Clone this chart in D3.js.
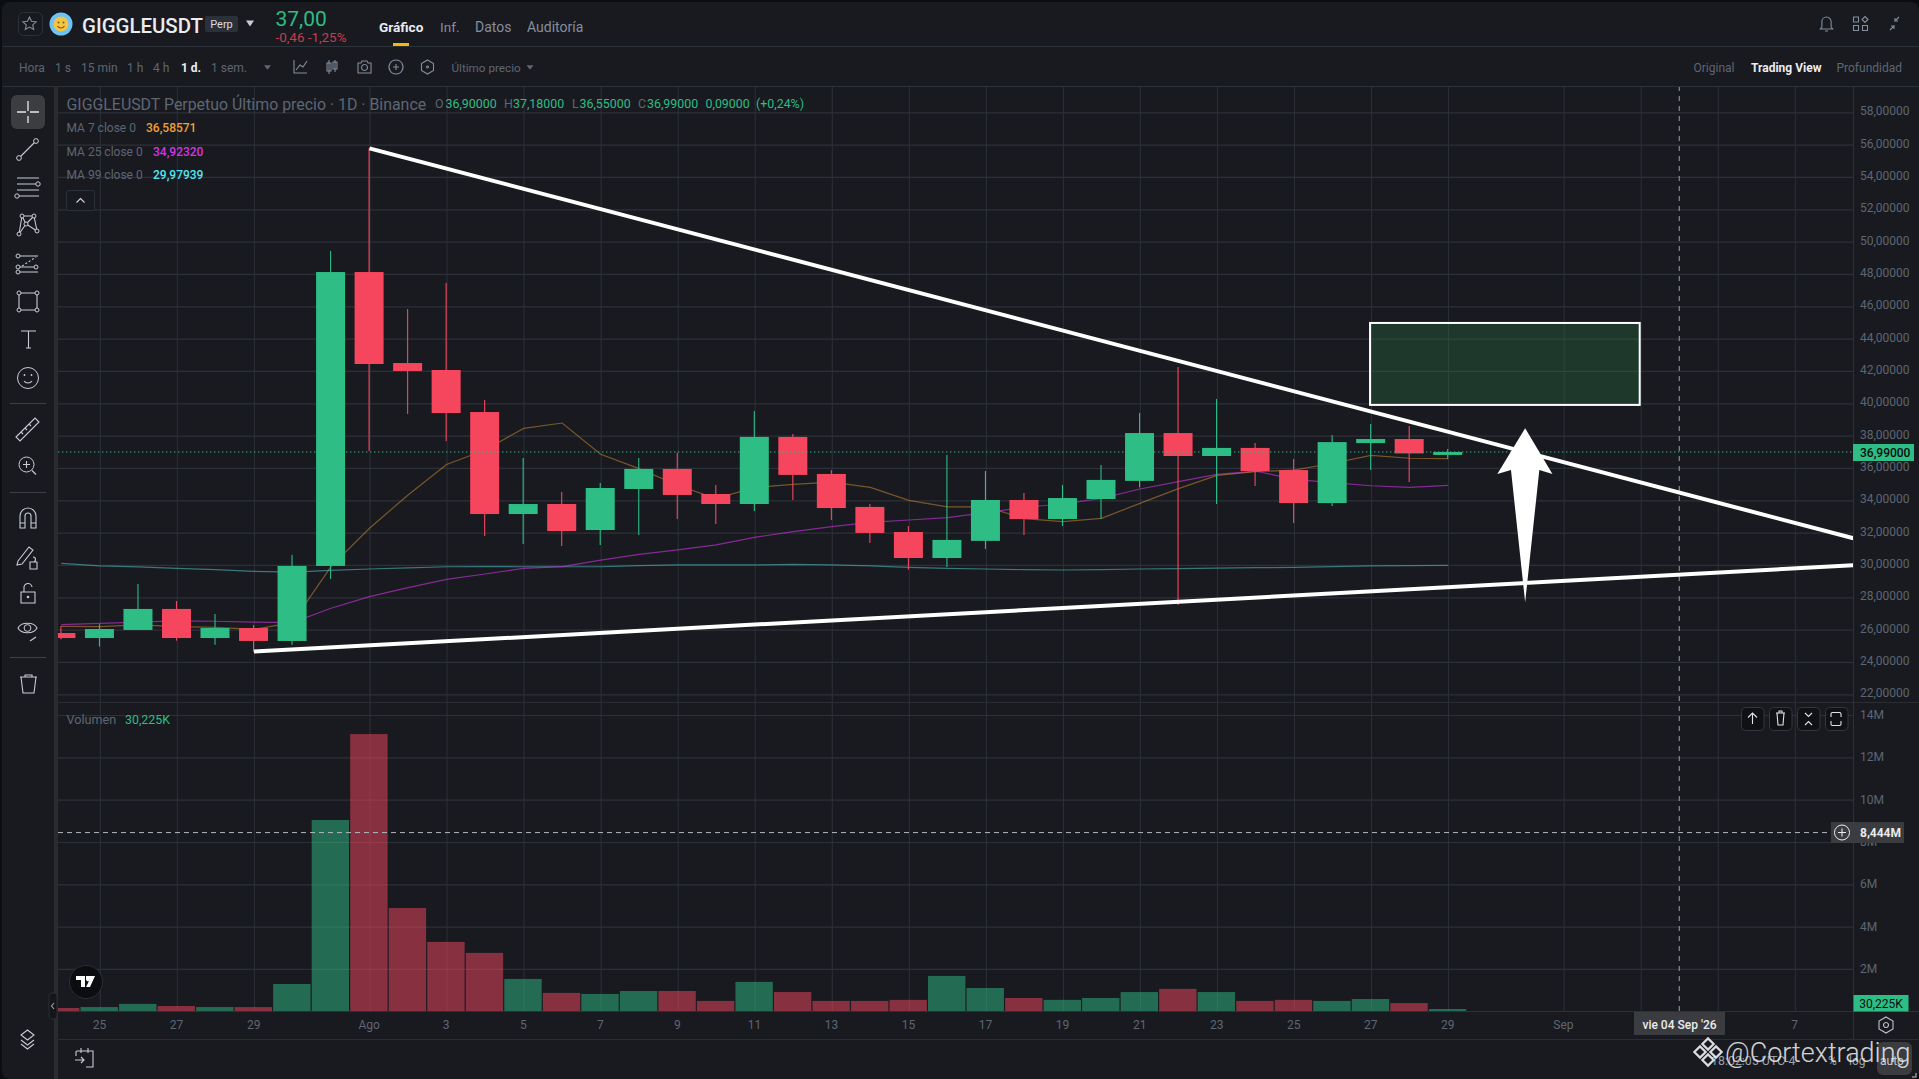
<!DOCTYPE html>
<html><head><meta charset="utf-8">
<script src="https://cdn.jsdelivr.net/npm/d3@7/dist/d3.min.js"></script>
<style>
html,body{margin:0;padding:0;background:#0b0e11;overflow:hidden}
svg{display:block}
text{font-family:"Roboto","Liberation Sans",sans-serif}
</style></head><body>
<svg id="c" width="1919" height="1079"></svg>
<script>
// ---------- data ----------
const dates=["07-24","07-25","07-26","07-27","07-28","07-29","07-30","07-31","08-01","08-02","08-03","08-04","08-05","08-06","08-07","08-08","08-09","08-10","08-11","08-12","08-13","08-14","08-15","08-16","08-17","08-18","08-19","08-20","08-21","08-22","08-23","08-24","08-25","08-26","08-27","08-28","08-29"];
const open=[25.79,25.48,25.98,27.28,25.48,26.10,25.30,29.94,48.12,42.49,42.06,39.46,33.15,33.77,32.16,34.70,35.94,34.39,33.77,37.92,35.63,33.59,32.04,30.43,31.49,34.02,32.84,34.08,35.20,38.16,36.74,37.24,35.87,33.83,37.54,37.79,36.90];
const close=[25.48,26.04,27.28,25.48,26.10,25.30,29.94,48.12,42.43,42.00,39.40,33.15,33.77,32.10,34.76,35.94,34.33,33.77,37.92,35.57,33.52,31.98,30.43,31.55,34.02,32.84,34.14,35.26,38.16,36.74,37.24,35.81,33.83,37.60,37.79,36.90,36.99];
const high=[26.23,26.33,28.82,27.77,26.97,26.29,30.62,49.42,55.77,45.83,47.44,40.20,36.62,34.51,35.07,36.62,36.95,34.95,39.52,38.10,35.87,33.77,32.41,36.80,35.81,34.45,34.95,36.18,39.40,42.25,40.27,37.54,36.55,38.04,38.72,38.60,37.18];
const low=[25.40,24.95,25.98,25.32,25.07,24.64,25.07,29.13,37.05,39.34,37.67,31.79,31.30,31.17,31.24,31.85,32.84,32.53,33.34,34.02,32.78,31.36,29.71,29.87,30.99,31.85,32.41,32.84,34.80,27.52,33.77,34.88,32.60,33.65,35.87,35.13,36.55];
const volume=[0.157,0.20,0.35,0.25,0.20,0.20,1.29,9.04,13.10,4.88,3.28,2.76,1.53,0.87,0.82,0.96,0.96,0.49,1.39,0.91,0.49,0.49,0.54,1.67,1.10,0.63,0.54,0.63,0.91,1.06,0.91,0.49,0.54,0.49,0.58,0.39,0.11];
const ma7=[26.20,26.18,26.29,26.18,26.14,26.01,26.43,29.90,32.27,34.33,36.22,37.11,38.45,38.78,36.85,35.96,34.93,34.10,34.80,34.99,35.13,34.80,34.00,33.59,33.60,32.87,32.68,32.88,33.81,34.72,35.54,35.77,35.87,36.29,36.78,36.60,36.58];
const ma25=[26.31,26.39,26.47,26.54,26.52,26.47,26.43,27.32,28.04,28.60,29.11,29.44,29.79,29.90,30.30,30.66,30.93,31.24,31.71,32.06,32.37,32.64,32.78,32.93,33.24,33.57,33.77,34.12,34.70,35.15,35.60,35.81,35.30,35.09,34.90,34.80,34.92];
const ma99=[30.10,29.94,29.88,29.79,29.71,29.60,29.56,29.67,29.75,29.82,29.89,29.90,29.89,29.89,29.89,29.96,30.00,30.00,30.00,30.04,30.00,29.94,29.85,29.79,29.75,29.71,29.69,29.71,29.75,29.77,29.81,29.83,29.85,29.90,29.94,29.96,29.98];
const priceTicks=[22,24,26,28,30,32,34,36,38,40,42,44,46,48,50,52,54,56,58];
const volTicks=[2,4,6,8,10,12,14];
const timeTicks=["07-25","07-27","07-29","08-01","08-03","08-05","08-07","08-09","08-11","08-13","08-15","08-17","08-19","08-21","08-23","08-25","08-27","08-29","09-01","09-03","09-05","09-07"];
const timeLabels=["25","27","29","Ago","3","5","7","9","11","13","15","17","19","21","23","25","27","29","Sep","3","5","7"];
const lastPrice=36.99, crossVol=8.444, crossDate="09-04";
const upperTrendDates=["08-01T00:00","09-08T12:30"], upperTrendPrices=[55.77,31.65];
const lowerTrendDates=["07-29T00:00","09-08T12:30"], lowerTrendPrices=[24.64,29.98];
const zoneDates=["08-27T00:00","09-03T00:00"], zonePrices=[44.97,39.90];
const arrowDates=["08-31T00:00","08-31T17:00","08-31T08:50","08-31T00:00","08-30T15:10","08-30T06:40"];
const arrowPrices=[38.45,35.63,35.87,27.69,35.87,35.63];

// ---------- scales ----------
const P=s=>new Date("2026-"+s+(s.includes("T")?":00Z":"T00:00:00Z"));
const fmtPrice=d3.formatLocale({decimal:",",thousands:".",grouping:[3],currency:["",""]}).format(".5f");
const L=58,R=1853,PT=86,PB=702,VB=1011.3;
const x=d3.scaleUtc().domain([P("08-01"),P("09-07")]).range([369.5,1794.8]);
const y=d3.scaleLinear().domain([22,58]).range([694.3,112.3]);
const v=d3.scaleLinear().domain([0,14]).range([VB,715]);

const C={bg:"#181a20",grid:"#2c3039",line:"#2b3139",muted:"#5e6673",text:"#848e9c",green:"#2ebd85",red:"#f6465d",tag:"#3a3c40"};
const svg=d3.select("#c");
const defs=svg.append("defs");
defs.append("clipPath").attr("id","pp").append("rect").attr("x",L).attr("y",PT).attr("width",R-L).attr("height",PB-PT);
defs.append("clipPath").attr("id","vp").append("rect").attr("x",L).attr("y",PB).attr("width",R-L).attr("height",VB-PB);
svg.append("rect").attr("width",1919).attr("height",1079).attr("fill","#0b0e11");
svg.append("rect").attr("x",2).attr("y",2).attr("width",1917).attr("height",1077).attr("rx",8).attr("fill",C.bg);

// ---------- grid + axes ----------
const gridX=svg.append("g").attr("transform",`translate(0,${PT})`).call(d3.axisBottom(x).tickValues(timeTicks.map(P)).tickSize(VB-PT).tickFormat(""));
gridX.select(".domain").remove(); gridX.selectAll("line").attr("stroke",C.grid);
const gridY=svg.append("g").attr("transform",`translate(${L},0)`).call(d3.axisRight(y).tickValues(priceTicks).tickSize(R-L).tickFormat(""));
gridY.select(".domain").remove(); gridY.selectAll("line").attr("stroke",C.grid).attr("stroke-width",1.2);
const gridV=svg.append("g").attr("transform",`translate(${L},0)`).call(d3.axisRight(v).tickValues(volTicks).tickSize(R-L).tickFormat(""));
gridV.select(".domain").remove(); gridV.selectAll("line").attr("stroke",C.grid).attr("stroke-width",1.2);

const style=g=>{g.attr("font-family",null);g.select(".domain").remove();g.selectAll("line").remove();g.selectAll("text").attr("fill",C.muted).attr("font-size",12);};
svg.append("g").attr("transform",`translate(${R},-1.4)`).call(d3.axisRight(y).tickValues(priceTicks).tickFormat(fmtPrice).tickSize(0).tickPadding(7)).call(style);
svg.append("g").attr("transform",`translate(${R},-0.4)`).call(d3.axisRight(v).tickValues(volTicks).tickFormat(d=>d+"M").tickSize(0).tickPadding(7)).call(style);
const tl=new Map(timeTicks.map((d,i)=>[+P(d),timeLabels[i]]));
svg.append("g").attr("transform",`translate(-0.8,${VB+9.4})`).call(d3.axisBottom(x).tickValues(timeTicks.map(P)).tickFormat(d=>tl.get(+d)).tickSize(0).tickPadding(0)).call(style);

// ---------- volume ----------
const bw=37.4;
svg.append("g").attr("clip-path","url(#vp)").selectAll("rect").data(dates).join("rect")
 .attr("x",d=>x(P(d))-bw/2-.6).attr("width",bw)
 .attr("y",(d,i)=>v(volume[i])).attr("height",(d,i)=>v(0)-v(volume[i]))
 .attr("fill",(d,i)=>close[i]>=open[i]?C.green:C.red).attr("fill-opacity",.5);

// ---------- MAs ----------
const price=svg.append("g").attr("clip-path","url(#pp)");
[[ma99,"#52c4cc",.55],[ma25,"#cc33dd",.62],[ma7,"#f0a035",.45]].forEach(([a,c,o])=>{
 price.append("path").attr("fill","none").attr("stroke",c).attr("stroke-opacity",o).attr("stroke-width",1.2)
 .attr("d",d3.line().x((d,i)=>x(P(dates[i]))).y(d=>y(d))(a));
});

// ---------- candles ----------
const cw=29;
const cg=price.selectAll("g.c").data(dates).join("g").attr("class","c");
const col=d=>{const i=dates.indexOf(d);return close[i]>=open[i]?C.green:C.red;};
cg.append("line").attr("x1",d=>x(P(d))-.4).attr("x2",d=>x(P(d))-.4).attr("y1",d=>y(high[dates.indexOf(d)])).attr("y2",d=>y(low[dates.indexOf(d)])).attr("stroke",col).attr("stroke-width",1.1);
cg.append("rect").attr("x",d=>x(P(d))-cw/2-.4).attr("width",cw)
 .attr("y",d=>{const i=dates.indexOf(d);return y(Math.max(open[i],close[i]));})
 .attr("height",d=>{const i=dates.indexOf(d);return Math.max(3,Math.abs(y(open[i])-y(close[i])));}).attr("fill",col);

// ---------- last price line ----------
svg.append("line").attr("x1",L).attr("x2",R).attr("y1",y(lastPrice)).attr("y2",y(lastPrice)).attr("stroke",C.green).attr("stroke-width",1).attr("stroke-dasharray","1.4 2.6");

// ---------- crosshair ----------
svg.append("line").attr("x1",x(P(crossDate))).attr("x2",x(P(crossDate))).attr("y1",PT).attr("y2",VB).attr("stroke","#9aa0a8").attr("stroke-width",1).attr("stroke-dasharray","5 5");
svg.append("line").attr("x1",L).attr("x2",R).attr("y1",v(crossVol)).attr("y2",v(crossVol)).attr("stroke","#b4b8be").attr("stroke-width",1).attr("stroke-dasharray","5 4");

// ---------- drawings ----------
const draw=svg.append("g").attr("clip-path","url(#pp)");
draw.append("rect").attr("x",x(P(zoneDates[0]))-1).attr("y",y(zonePrices[0])).attr("width",x(P(zoneDates[1]))-x(P(zoneDates[0]))).attr("height",y(zonePrices[1])-y(zonePrices[0])).attr("fill","#2e7d46").attr("fill-opacity",.3).attr("stroke","#fff").attr("stroke-width",2);
[[upperTrendDates,upperTrendPrices],[lowerTrendDates,lowerTrendPrices]].forEach(([ds,ps])=>{
 draw.append("line").attr("x1",x(P(ds[0]))).attr("y1",y(ps[0])).attr("x2",x(P(ds[1]))).attr("y2",y(ps[1])).attr("stroke","#fff").attr("stroke-width",4);
});
draw.append("polygon").attr("fill","#fff").attr("points",arrowDates.map((d,i)=>x(P(d))+","+y(arrowPrices[i])).join(" "));

// ---------- chrome lines ----------
const hl=(yy,x1,x2,c)=>svg.append("line").attr("x1",x1).attr("x2",x2).attr("y1",yy).attr("y2",yy).attr("stroke",c||C.line);
hl(46.5,2,1919);hl(86.5,2,1919);hl(702.5,L,1919,"#2b2d33");hl(1011.5,L,1919);hl(1039.5,L,1919,"#2b2d33");
svg.append("line").attr("x1",R+.5).attr("x2",R+.5).attr("y1",PT).attr("y2",1039).attr("stroke",C.line);
svg.append("rect").attr("x",54).attr("y",86).attr("width",4).attr("height",993).attr("fill","#2a2b2f");

// ---------- helpers ----------
const T=(s,xx,yy,o={})=>svg.append("text").text(s).attr("x",xx).attr("y",yy).attr("dy",".35em").attr("font-size",o.s||12).attr("fill",o.c||C.muted).attr("font-weight",o.w||400).attr("text-anchor",o.a||"start").attr("opacity",o.o||1);
const ic=(d,o={})=>svg.append("path").attr("d",d).attr("fill",o.f||"none").attr("stroke",o.c||"#b7bdc6").attr("stroke-width",o.w||1.1);
const tri=(cx,cy,w,h,c)=>svg.append("path").attr("d",`M${cx-w/2} ${cy-h/2}h${w}l${-w/2} ${h}z`).attr("fill",c);
const box=(xx,yy,w,h,fill,r,stroke)=>svg.append("rect").attr("x",xx).attr("y",yy).attr("width",w).attr("height",h).attr("fill",fill).attr("rx",r||0).attr("stroke",stroke||"none");
const dot=(cx,cy,r,f,s)=>svg.append("circle").attr("cx",cx).attr("cy",cy).attr("r",r).attr("fill",f||"none").attr("stroke",s||"none");

// header
box(18.5,12.5,24,23,"none",5,"#2b3139");
ic("M29.5 17l2 4.3 4.6.5-3.4 3.1 1 4.6-4.2-2.4-4.2 2.4 1-4.6-3.4-3.1 4.6-.5z",{c:"#848e9c"});
dot(61,24,11.5,"#6ec3f4");dot(61,24,7.5,"#f5c542");
ic("M57.5 26a4 4 0 0 0 7 0",{c:"#7a5a10"});dot(58.5,22.5,1,"#7a5a10");dot(63.5,22.5,1,"#7a5a10");
T("GIGGLEUSDT",82,26,{s:20.4,c:"#eaecef",w:500});
box(205,16,33,16,"#2b3139",2);
T("Perp",221.5,24,{s:11,c:"#d8dce2",a:"middle"});
tri(250,23.5,8,6,"#c9ced6");
T("37,00",275.5,19,{s:21,c:C.green});
T("-0,46 -1,25%",275.5,37.5,{s:13.4,c:"#c93a4d"});
T("Gráfico",379,27,{s:13.6,c:"#eaecef",w:700});
T("Inf.",440,27,{s:13.6,c:C.text});T("Datos",475,27,{s:14,c:C.text});T("Auditoría",527,27,{s:14,c:C.text});
box(393,43,16,3,"#f0b90b");
ic("M1826.5 17a4.6 4.6 0 0 1 4.6 4.6V27l1.6 2h-12.4l1.6-2v-5.4a4.6 4.6 0 0 1 4.6-4.6zM1825 31h3",{c:"#848e9c"});
ic("M1853.5 17h5v5h-5zM1853.5 25.5h5v5h-5zM1862.5 25.5h5v5h-5zM1865 16.5l3 3-3 3-3-3z",{c:"#848e9c"});
ic("M1899 17l-4 4h3m-3 0v-3M1890 30l4-4h-3m3 0v3",{c:"#848e9c"});

// toolbar
[["Hora",19],["1 s",55],["15 min",81],["1 h",127],["4 h",153],["1 sem.",211]].forEach(([s,xx])=>T(s,xx,67.5,{s:12,c:C.muted}));
T("1 d.",181,67.5,{s:12,c:"#eaecef",w:700});
tri(267.5,67.5,7,4.5,"#5e6673");
T("Último precio",451.5,67.5,{s:11.7,c:C.muted});tri(530,67.5,7,4.5,"#5e6673");
ic("M294 60v13h13M296 70l4-5 3 2 4-6",{c:"#848e9c"});
ic("M327 63h4v8h-4zM329 60v14M333 62h4v7h-4zM335 60v12",{c:"#848e9c"});
ic("M358 63h3l1-2h5l1 2h3v10h-13zM364.5 64.5a3 3 0 1 0 .01 0",{c:"#848e9c"});
ic("M396 60a7 7 0 1 0 .01 0zM396 64v6M393 67h6",{c:"#848e9c"});
ic("M427.5 60l6 3.5v7l-6 3.5-6-3.5v-7zM427.5 66a1 1 0 1 0 .01 0",{c:"#848e9c"});
T("Original",1693.5,67.5,{s:12,c:C.muted});T("Trading View",1751,67.5,{s:12,c:"#eaecef",w:700});T("Profundidad",1836.5,67.5,{s:12,c:C.muted});

// legends
T("GIGGLEUSDT Perpetuo Último precio · 1D · Binance",66.5,104,{s:15.9,c:C.muted});
[["O",435,"36,90000",445.5],["H",504,"37,18000",513],["L",572,"36,55000",579.5],["C",638,"36,99000",647]].forEach(([k,kx,val,vx])=>{
 T(k,kx,104,{s:12.4,c:C.muted});T(val,vx,104,{s:12.4,c:C.green});
});
T("0,09000",705.5,104,{s:12.4,c:C.green});T("(+0,24%)",756,104,{s:12.4,c:C.green});
[["MA 7 close 0","36,58571","#f0a035",128,146],["MA 25 close 0","34,92320","#d633e6",152,153],["MA 99 close 0","29,97939","#55e6f2",175,153]].forEach(([n,val,c,yy,vx])=>{
 T(n,66.5,yy,{s:12});T(val,vx,yy,{s:12,c:c,w:500});
});
box(66.5,190.5,28,20,C.bg,2,"#2b3139");
ic("M76.5 202.5l4-4 4 4",{c:"#d0d4da"});
T("Volumen",66.5,720,{s:12.6});T("30,225K",125,720,{s:12.4,c:C.green});

// right tags
box(1853,444,61,17,C.green);
T("36,99000",1860,452.5,{s:12,c:"#0b0e11",w:500});
box(1853.5,995,55,16.5,C.green);
T("30,225K",1881,1003.5,{s:12,c:"#0b0e11",a:"middle"});
box(1831,822,73,21,C.tag);
dot(1842,832.5,7.5,"none","#eaecef");ic("M1838 832.5h8M1842 828.5v8",{c:"#eaecef"});
T("8,444M",1860,832.5,{s:12,c:"#eaecef",w:700});
box(1634,1012,91,23,C.tag);
T("vie 04 Sep '26",1679.5,1025,{s:12,c:"#eaecef",a:"middle",w:500});
ic("M1886 1017l7 4v8l-7 4-7-4v-8zM1886 1022.5a2.5 2.5 0 1 0 .01 0",{c:"#c0c4ca"});

// pane buttons
[1741,1769,1797,1825].forEach(bx=>box(bx+.5,707.5,22.5,23,"#0f1115",4,"#33363d"));
ic("M1752.5 724v-11M1748 717.5l4.5-4.5 4.5 4.5",{c:"#e0e3e8"});
ic("M1776 713h9M1779 713v-2h3v2M1777 713l1 12h5l1-12",{c:"#e0e3e8"});
ic("M1805 713l3.5 3.5 3.5-3.5M1805 725l3.5-3.5 3.5 3.5",{c:"#e0e3e8"});
ic("M1831 717v-3a1.5 1.5 0 0 1 1.5-1.5h7a1.5 1.5 0 0 1 1.5 1.5v3M1831 721v3a1.5 1.5 0 0 0 1.5 1.5h7a1.5 1.5 0 0 0 1.5-1.5v-3",{c:"#e0e3e8"});

// TV logo
svg.append("ellipse").attr("cx",86).attr("cy",982).attr("rx",16.5).attr("ry",16.5).attr("fill","#0b0d10").attr("stroke","#2b2d33");
ic("M76 976h9v11h-4v-7h-5zM86 976h9l-5 11h-4l3-6a2 2 0 0 1-3-2z",{f:"#fff",c:"none"});
box(49,993,8,26,"#14161a",3,"#2b2d33");
ic("M54 1003l-2.5 3 2.5 3",{c:"#a0a4aa"});

// bottom right
T("18:02:05 UTC-4",1711,1061,{s:12.4,c:"#9aa0a8"});
T("%",1828,1061,{s:12,c:"#9aa0a8"});T("log",1849,1061,{s:12,c:"#9aa0a8"});
box(1877,1042,35,33,C.tag,6);
T("auto",1880,1061,{s:12,c:"#c8ccd2"});
ic("M1912 1077h4v-4",{c:"#8a8f96",w:1.5});
T("@Cortextrading",1725,1053,{s:27,c:"#f0f1f3",w:300,o:.85});
[[0,-9],[-8,-1],[8,-1],[0,7]].forEach(([dx,dy])=>{
 svg.append("path").attr("transform",`translate(${1708+dx},${1053+dy}) rotate(45)`).attr("d","M-4 -4h8v8h-8z").attr("fill","none").attr("stroke","#f0f1f3").attr("stroke-width",2.2).attr("opacity",.9);
});

// sidebar
const side="#c8ccd2";
box(11,95,34,34,"#3c3d40",6);
ic("M28 101v10M28 123v-7M17 112h9M39 112h-9",{c:"#e8e8e8",w:1.3});
ic("M19 158L36 141",{c:side});dot(19,158,2.4,C.bg,side);dot(36,141,2.4,C.bg,side);
ic("M17 178h22M17 184h22M17 190h22M17 196h22",{c:side});dot(38,184,2.2,C.bg,side);dot(17,196,2.2,C.bg,side);
ic("M22 216L19 234L26 224L22 216L34 216L37 231L26 224L34 216",{c:side});[[22,216],[19,234],[26,224],[34,216],[37,231]].forEach(p=>dot(p[0],p[1],2,C.bg,side));
ic("M19 256h19M19 267h18M19 272h19",{c:side});ic("M22 266L36 257",{c:side}).attr("stroke-dasharray","2 2");
[[18,256],[18,267],[18,272],[36,267]].forEach(p=>dot(p[0],p[1],2,C.bg,side));
ic("M19 293h18v17h-18z",{c:side});[[19,293],[37,293],[19,310],[37,310]].forEach(p=>dot(p[0],p[1],2,C.bg,side));
ic("M21 331h15M28.5 331v17M26 348h5",{c:side});
dot(28,378,10.5,"none",side);dot(24.5,375,.9,side);dot(31.5,375,.9,side);ic("M24 381a5 5 0 0 0 8 0",{c:side});
box(10,403,36,1,"#3c3f45");
ic("M16 437l19-19 4 4-19 19zM21 432l2 2M25 428l2 2M29 424l2 2",{c:side});
dot(26.5,464.5,7.5,"none",side);ic("M26.5 461v7M23 464.5h7M32 470.5l4 4",{c:side});
box(10,492,36,1,"#3c3f45");
ic("M20 528v-12a8 8 0 0 1 16 0v12h-5v-12a3 3 0 0 0-6 0v12zM20 523h5M31 523h5",{c:side});
ic("M18 561l11-14 4 3-11 14-5 1zM33 557a2.5 2.5 0 1 1 0 5M30 562h7v7h-7z",{c:side});
ic("M21 592h14v11h-14zM24 592v-4a4 4 0 0 1 8-1",{c:side});dot(28,597,1.3,side);
ic("M18 628a10 7 0 0 1 19 0a10 7 0 0 1 -19 0z",{c:side});dot(27.5,628,3.4,"none",side);ic("M30 641l6-4",{c:side});
box(10,657,36,1,"#3c3f45");
ic("M20 677h17M25 677v-2h7v2M21 677l2 16h11l2-16",{c:side});
ic("M27.5 1030l6.5 5-6.5 5-6.5-5zM21 1040l6.5 5 6.5-5M21 1044l6.5 5 6.5-5",{c:side});
ic("M76 1056v-4a1 1 0 0 1 1-1h16v16h-7M81 1048v5M88 1048v5M75 1060h9M81 1057l3 3-3 3",{c:side});
</script>
</body></html>
